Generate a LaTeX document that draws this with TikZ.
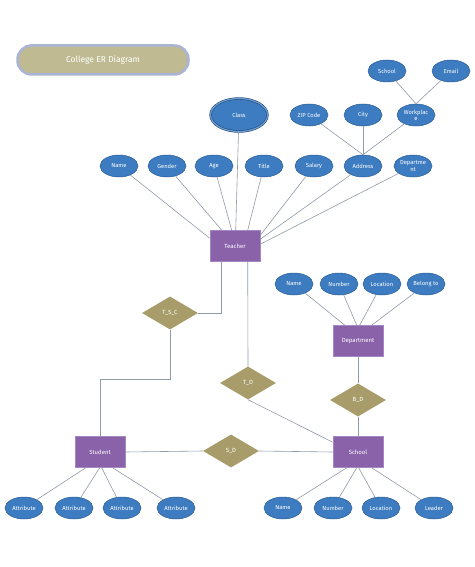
\documentclass[tikz,border=0pt]{standalone}
\usepackage{fontspec}
\setmainfont{Fira Sans}
\usetikzlibrary{shapes.geometric}
\definecolor{erblue}{RGB}{61,124,192}
\definecolor{erblueb}{RGB}{42,92,148}
\definecolor{erbox}{RGB}{137,98,170}
\definecolor{erboxb}{RGB}{165,135,195}
\definecolor{erdia}{RGB}{168,156,106}
\definecolor{erline}{RGB}{145,154,168}
\definecolor{ertitle}{RGB}{192,186,146}
\definecolor{ertitleb}{RGB}{170,180,212}
\tikzset{
  attr/.style={ellipse, fill=erblue, draw=erblueb, line width=0.5pt, minimum width=38pt, minimum height=22pt, inner sep=0pt, text=white, font=\fontsize{5.8}{6.2}\selectfont, align=center},
  ent/.style={rectangle, fill=erbox, draw=erboxb, line width=0.6pt, minimum width=50pt, minimum height=31pt, inner sep=0pt, text=white, font=\fontsize{6}{7}\selectfont},
  rel/.style={diamond, fill=erdia, draw=none, minimum width=56pt, minimum height=33pt, inner sep=0pt, text=white, font=\fontsize{6}{7}\selectfont},
  conn/.style={draw=erline, line width=0.6pt},
}
\begin{document}
\begin{tikzpicture}[x=1pt,y=-1pt]
\useasboundingbox[fill=white] (0,0) rectangle (474,567);
% title
\node[rectangle, rounded corners=14pt, fill=ertitle, draw=ertitleb, line width=2.5pt, minimum width=171pt, minimum height=29pt, text=white, font=\fontsize{8.5}{9}\selectfont] (title) at (103,60) {College ER Diagram};
% entities
\node[ent] (teacher) at (235,246) {Teacher};
\node[ent] (dept) at (358,341) {Department};
\node[ent] (school) at (358,452) {School};
\node[ent] (student) at (100,452) {Student};
% relations
\node[rel] (tsc) at (170,313) {T\_S\_C};
\node[rel] (td) at (248,383) {T\_D};
\node[rel] (bd) at (358,400) {B\_D};
\node[rel] (sd) at (231,451) {S\_D};
% teacher attributes
\node[attr] (tname) at (119,166) {Name};
\node[attr] (gender) at (167,166) {Gender};
\node[attr] (age) at (214,166) {Age};
\node[attr] (title2) at (264,166) {Title};
\node[attr] (salary) at (314,166) {Salary};
\node[attr] (address) at (363,166) {Address};
\node[attr] (tdept) at (413,166) {Departme\\nt};
\node[attr, minimum width=57pt, minimum height=33pt, draw=erblueb!85!black, line width=0.6pt, double=erblue!75!white, double distance=1.2pt] (class) at (239,115) {Class};
\node[attr] (zip) at (309,115) {ZIP Code};
\node[attr] (city) at (363,115) {City};
\node[attr] (work) at (416,115) {Workplac\\e};
\node[attr] (wschool) at (387,71) {School};
\node[attr] (email) at (451,71) {Email};
% department attributes
\node[attr] (dname) at (294,284) {Name};
\node[attr] (dnum) at (339,284) {Number};
\node[attr] (dloc) at (382,284) {Location};
\node[attr] (dbel) at (426,284) {Belong to};
% student attributes
\node[attr] (sa1) at (24,508) {Attribute};
\node[attr] (sa2) at (74,508) {Attribute};
\node[attr] (sa3) at (122,508) {Attribute};
\node[attr] (sa4) at (176,508) {Attribute};
% school attributes
\node[attr] (scname) at (283,508) {Name};
\node[attr] (scnum) at (333,508) {Number};
\node[attr] (scloc) at (381,508) {Location};
\node[attr] (sclead) at (434,508) {Leader};
% connectors: teacher attributes
\draw[conn] (tname) -- ([yshift=-8pt]teacher.north west);
\draw[conn] (gender) -- ([xshift=12pt]teacher.north west);
\draw[conn] (age) -- ([xshift=22pt]teacher.north west);
\draw[conn] (class) -- ([xshift=26pt]teacher.north west);
\draw[conn] (title2) -- ([xshift=38pt]teacher.north west);
\draw[conn] (salary) -- ([yshift=-5pt]teacher.north east);
\draw[conn] (address) -- ([yshift=-9pt]teacher.north east);
\draw[conn] (tdept) -- ([yshift=-14pt]teacher.north east);
\draw[conn] (zip) -- (address.north);
\draw[conn] (city) -- (address.north);
\draw[conn] (work) -- (address.north);
\draw[conn] (wschool) -- (work.north);
\draw[conn] (email) -- (work.north);
% department attributes
\draw[conn] (dname) -- ([xshift=12pt]dept.north west);
\draw[conn] (dnum) -- ([xshift=24pt]dept.north west);
\draw[conn] (dloc) -- ([xshift=27pt]dept.north west);
\draw[conn] (dbel) -- ([xshift=39pt]dept.north west);
% student attributes
\draw[conn] (sa1) -- ([xshift=11pt]student.south west);
\draw[conn] (sa2) -- ([xshift=25pt]student.south west);
\draw[conn] (sa3) -- ([xshift=27pt]student.south west);
\draw[conn] (sa4) -- ([xshift=38pt]student.south west);
% school attributes
\draw[conn] (scname) -- ([xshift=14pt]school.south west);
\draw[conn] (scnum) -- ([xshift=24pt]school.south west);
\draw[conn] (scloc) -- ([xshift=26pt]school.south west);
\draw[conn] (sclead) -- ([xshift=39pt]school.south west);
% relationships
\draw[conn] ([xshift=12pt]teacher.south west) |- (tsc.east);
\draw[conn] (tsc.south) -- ++(0,50) -| (student.north);
\draw[conn] ([xshift=38pt]teacher.south west) -- (td.north);
\draw[conn] (td.south) -- ([yshift=-6pt]school.north west);
\draw[conn] (dept.south) -- (bd.north);
\draw[conn] (bd.south) -- (school.north);
\draw[conn] (student.east) -- (sd.west);
\draw[conn] (sd.east) -- (school.west);
\end{tikzpicture}
\end{document}
